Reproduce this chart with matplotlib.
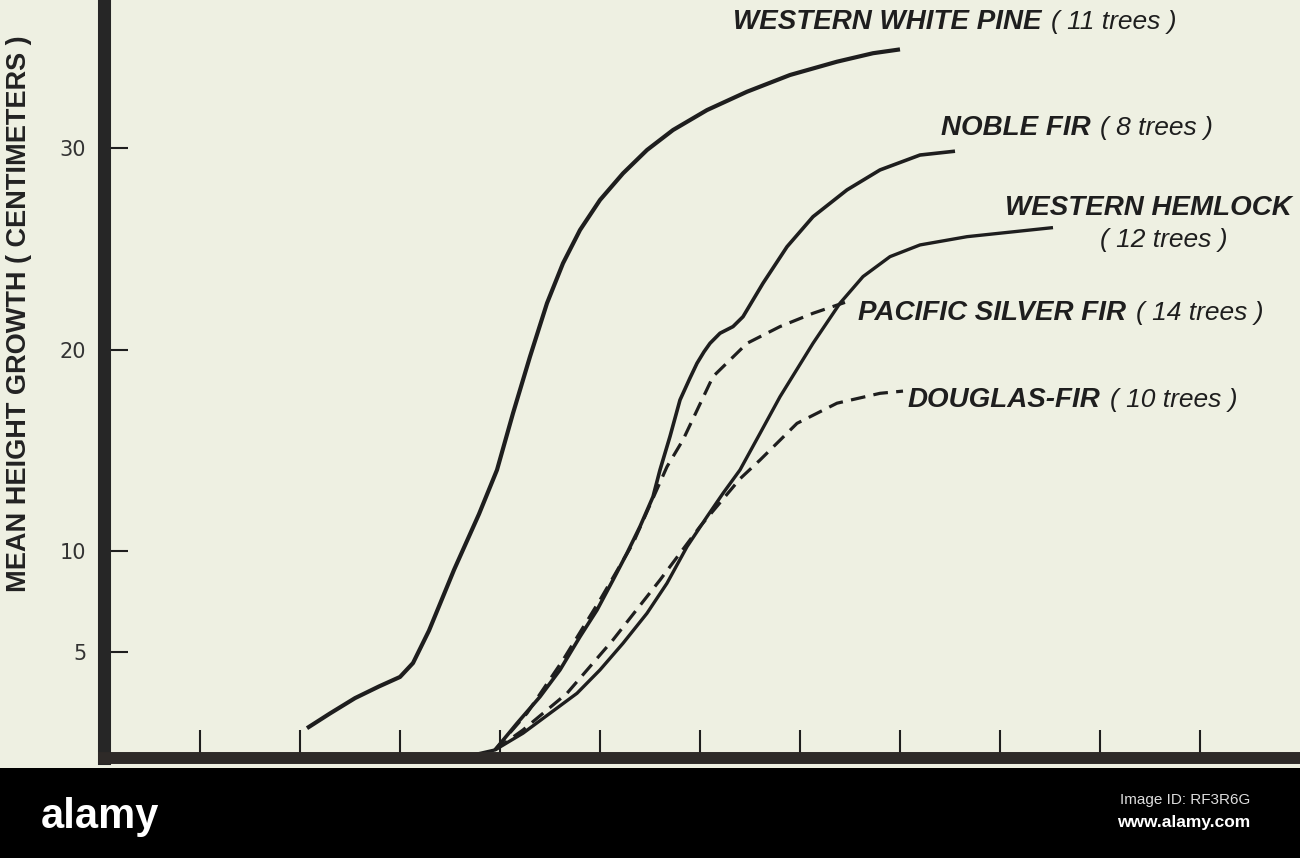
import matplotlib
matplotlib.use('Agg')
import matplotlib.pyplot as plt
from matplotlib.patches import Rectangle

# mean height growth (cm)
wwp_x = [2.07, 2.30, 2.55, 2.79, 3.00, 3.13, 3.29, 3.54, 3.79, 3.97, 4.13, 4.30,
         4.47, 4.63, 4.80, 5.00, 5.23, 5.47, 5.73, 6.07, 6.47, 6.90, 7.37, 7.73, 8.00]
wwp_y = [1.23, 1.96, 2.72, 3.30, 3.77, 4.46, 6.07, 9.08, 11.85, 14.04, 16.85, 19.66,
         22.31, 24.29, 25.94, 27.43, 28.75, 29.91, 30.90, 31.89, 32.80, 33.63, 34.29, 34.71, 34.90]

noble_x = [3.95, 4.17, 4.40, 4.60, 4.80, 4.97, 5.13, 5.27, 5.40, 5.53, 5.60, 5.70,
           5.80, 5.90, 5.97, 6.04, 6.10, 6.20, 6.33, 6.43, 6.63, 6.87, 7.13, 7.47,
           7.80, 8.20, 8.55]
noble_y = [0.15, 1.47, 2.79, 4.12, 5.77, 7.09, 8.58, 9.91, 11.23, 12.71, 14.04, 15.70,
           17.51, 18.60, 19.33, 19.90, 20.32, 20.82, 21.15, 21.64, 23.30, 25.11, 26.60, 27.93,
           28.92, 29.66, 29.85]

hemlock_x = [3.40, 3.73, 3.95, 4.23, 4.50, 4.77, 5.00, 5.23, 5.47, 5.67, 5.87, 6.07,
             6.23, 6.40, 6.60, 6.80, 7.13, 7.40, 7.63, 7.90, 8.20, 8.67, 9.53]
hemlock_y = [-0.20, -0.10, 0.15, 0.98, 1.97, 2.96, 4.12, 5.44, 6.93, 8.42, 10.23, 11.72,
             12.88, 14.04, 15.85, 17.67, 20.32, 22.31, 23.63, 24.62, 25.20, 25.61, 26.06]

silver_x = [3.95, 4.27, 4.63, 5.00, 5.33, 5.67, 5.83, 6.13, 6.47, 6.80, 7.13, 7.45]
silver_y = [0.15, 1.97, 4.61, 7.59, 10.40, 14.20, 15.53, 18.67, 20.32, 21.15, 21.81, 22.35]

douglas_x = [3.95, 4.23, 4.67, 5.13, 5.60, 6.00, 6.40, 6.60, 6.97, 7.37, 7.80, 8.03]
douglas_y = [0.15, 1.14, 2.96, 5.61, 8.58, 11.23, 13.60, 14.53, 16.35, 17.35, 17.84, 17.95]

y_ticks = [5, 10, 20, 30]
x_ticks = [1, 2, 3, 4, 5, 6, 7, 8, 9, 10, 11]

paper = '#eef0e2'
ink = '#1e1e1e'

fig = plt.figure(figsize=(13, 8.58), dpi=100, facecolor=paper)
ax = fig.add_axes([103.5 / 1300, 100 / 858, 1 - 103.5 / 1300, 1 - 100 / 858])
ax.set_facecolor(paper)
ax.set_xlim(0.035, 12.0)
ax.set_ylim(-0.25, 37.35)

for s in ['top', 'right']:
    ax.spines[s].set_visible(False)
ax.spines['left'].set_linewidth(9.4)
ax.spines['bottom'].set_linewidth(8.6)
ax.spines['left'].set_color('#262626')
ax.spines['bottom'].set_color('#2e2a28')

ax.set_yticks(y_ticks)
ax.set_yticklabels([str(v) for v in y_ticks])
ax.set_xticks(x_ticks)
ax.set_xticklabels([''] * len(x_ticks))
ax.tick_params(axis='y', direction='in', length=17.5, width=1.5, color=ink,
               pad=12.5, labelsize=15, labelcolor='#333333')
ax.tick_params(axis='x', direction='in', length=20, width=1.5, color=ink)

solid = dict(color=ink, solid_joinstyle='round', solid_capstyle='butt')
dashed = dict(color=ink, ls=(0, (4.6, 2.6)), dash_capstyle='butt', lw=2.3)
ax.plot(wwp_x, wwp_y, lw=3.0, **solid)
ax.plot(noble_x, noble_y, lw=2.6, **solid)
ax.plot(hemlock_x, hemlock_y, lw=2.4, **solid)
ax.plot(silver_x, silver_y, **dashed)
ax.plot(douglas_x, douglas_y, **dashed)

main_font = dict(family='Liberation Sans', weight='bold', style='italic', fontsize=20, color=ink)
sub_font = dict(family='Liberation Sans', style='italic', fontsize=19, color=ink)


def label(x, y, name, count):
    t = ax.text(x, y, name, ha='left', va='center', **main_font)
    if count:
        ax.annotate(count, xy=(1, 0.5), xycoords=t, xytext=(7, 0),
                    textcoords='offset points', ha='left', va='center', **sub_font)
    return t


label(6.33, 36.26, 'WESTERN WHITE PINE', '( 11 trees )')
label(8.41, 31.00, 'NOBLE FIR', '( 8 trees )')
label(9.05, 27.03, 'WESTERN HEMLOCK', None)
ax.text(10.0, 25.45, '( 12 trees )', ha='left', va='center', **sub_font)
label(7.58, 21.83, 'PACIFIC SILVER FIR', '( 14 trees )')
label(8.08, 17.51, 'DOUGLAS-FIR', '( 10 trees )')

fig.text(19 / 1300, (858 - 592) / 858, 'MEAN HEIGHT GROWTH ( CENTIMETERS )',
         rotation=90, ha='center', va='bottom', family='Liberation Sans',
         weight='bold', fontsize=19.5, color='#222222')

# dark strip at the bottom of the scan
fig.add_artist(Rectangle((0, 0), 1, 90 / 858, transform=fig.transFigure,
                         facecolor='black', edgecolor='none', zorder=5))
fig.text(100 / 1300, 30 / 858, 'alamy', ha='center', va='baseline', color='white',
         family='Liberation Sans', weight='bold', fontsize=30, zorder=6)
fig.text(1250 / 1300, (858 - 800) / 858, 'Image ID: RF3R6G', ha='right', va='center',
         color='#dddddd', family='Liberation Sans', fontsize=11, zorder=6)
fig.text(1250 / 1300, (858 - 823) / 858, 'www.alamy.com', ha='right', va='center',
         color='white', family='Liberation Sans', weight='bold', fontsize=12.5, zorder=6)

fig.savefig('out.png', dpi=100, facecolor=paper)
